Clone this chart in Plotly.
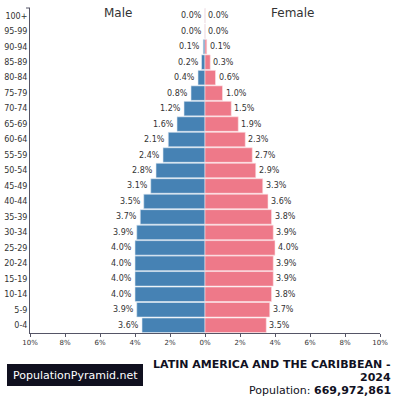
import plotly.graph_objects as go

age_groups = ["0-4", "5-9", "10-14", "15-19", "20-24", "25-29", "30-34", "35-39",
              "40-44", "45-49", "50-54", "55-59", "60-64", "65-69", "70-74",
              "75-79", "80-84", "85-89", "90-94", "95-99", "100+"]
male = [3.6, 3.9, 4.0, 4.0, 4.0, 4.0, 3.9, 3.7, 3.5, 3.1, 2.8, 2.4, 2.1, 1.6, 1.2,
        0.8, 0.4, 0.2, 0.1, 0.0, 0.0]
female = [3.5, 3.7, 3.8, 3.9, 3.9, 4.0, 3.9, 3.8, 3.6, 3.3, 2.9, 2.7, 2.3, 1.9, 1.5,
          1.0, 0.6, 0.3, 0.1, 0.0, 0.0]
tick_vals = [-10, -8, -6, -4, -2, 0, 2, 4, 6, 8, 10]
tick_text = ["10%", "8%", "6%", "4%", "2%", "0%", "2%", "4%", "6%", "8%", "10%"]

MALE_C = "#4682b4"
FEMALE_C = "#ee7989"
TXT = "#333333"
FONT = "DejaVu Sans"

W, H = 400, 417
ML, MR, MT, MB = 30, 20, 8, 84
PH = H - MT - MB


def py(p):
    return (H - MB - p) / PH


def px(p):
    return (p - ML) / (W - ML - MR)


fig = go.Figure()
fig.add_trace(go.Bar(y=age_groups, x=[-v for v in male], orientation="h",
                     marker=dict(color=MALE_C, line=dict(color="#dfe9f3", width=0.6)),
                     name="Male", hoverinfo="skip"))
fig.add_trace(go.Bar(y=age_groups, x=female, orientation="h",
                     marker=dict(color=FEMALE_C, line=dict(color="#fbe0e4", width=0.6)),
                     name="Female", hoverinfo="skip"))

for a, v in zip(age_groups, male):
    fig.add_annotation(x=-v, y=a, text=f"{v:.1f}%", showarrow=False, xanchor="right",
                       xshift=-1, font=dict(size=8, color=TXT, family=FONT))
for a, v in zip(age_groups, female):
    fig.add_annotation(x=v, y=a, text=f"{v:.1f}%", showarrow=False, xanchor="left",
                       xshift=1, font=dict(size=8, color=TXT, family=FONT))

fig.add_annotation(x=-5, y=py(13), yref="paper", yanchor="middle", text="Male", showarrow=False,
                   font=dict(size=12, color=TXT, family=FONT))
fig.add_annotation(x=5, y=py(13), yref="paper", yanchor="middle", text="Female", showarrow=False,
                   font=dict(size=12, color=TXT, family=FONT))

# axis top hook
fig.add_shape(type="line", xref="paper", yref="paper", x0=px(26), x1=px(30), y0=1, y1=1,
              line=dict(color="#555566", width=1))

# brand box
fig.add_shape(type="rect", xref="paper", yref="paper", x0=px(7), x1=px(143),
              y0=py(386), y1=py(364), fillcolor="#10101f", line=dict(width=0), layer="below")
fig.add_annotation(xref="paper", yref="paper", x=px(75), y=py(375), xanchor="center",
                   yanchor="middle", text="PopulationPyramid.net",
                   showarrow=False, font=dict(size=11, color="white", family=FONT))

fig.add_annotation(xref="paper", yref="paper", x=px(393), y=py(364), xanchor="right",
                   yanchor="middle",
                   text="<b>LATIN AMERICA AND THE CARIBBEAN -</b>", showarrow=False,
                   font=dict(size=11, color="#111122", family=FONT))
fig.add_annotation(xref="paper", yref="paper", x=px(393), y=py(377), xanchor="right",
                   yanchor="middle",
                   text="<b>2024</b>", showarrow=False,
                   font=dict(size=11, color="#111122", family=FONT))
fig.add_annotation(xref="paper", yref="paper", x=px(393), y=py(390), xanchor="right",
                   yanchor="middle",
                   text="Population: <b>669,972,861</b>", showarrow=False,
                   font=dict(size=11, color="#111122", family=FONT))

fig.update_layout(
    width=W, height=H, margin=dict(l=ML, r=MR, t=MT, b=MB),
    barmode="overlay", bargap=0.06, showlegend=False,
    plot_bgcolor="white", paper_bgcolor="white",
    font=dict(family=FONT, color=TXT),
)
fig.update_xaxes(range=[-10, 10], tickvals=tick_vals, ticktext=tick_text,
                 showgrid=False, zeroline=False, showline=True, linecolor="#555566",
                 linewidth=1, ticks="outside", ticklen=3, tickcolor="#555566",
                 tickfont=dict(size=7, color=TXT, family=FONT), fixedrange=True,
                 automargin=False)
fig.update_yaxes(categoryorder="array", categoryarray=age_groups, range=[-0.5, 20.5],
                 showgrid=False, zeroline=False, showline=True, linecolor="#555566",
                 linewidth=1, ticks="", tickfont=dict(size=8, color=TXT, family=FONT),
                 fixedrange=True, automargin=False)

fig.write_html("out.html")
